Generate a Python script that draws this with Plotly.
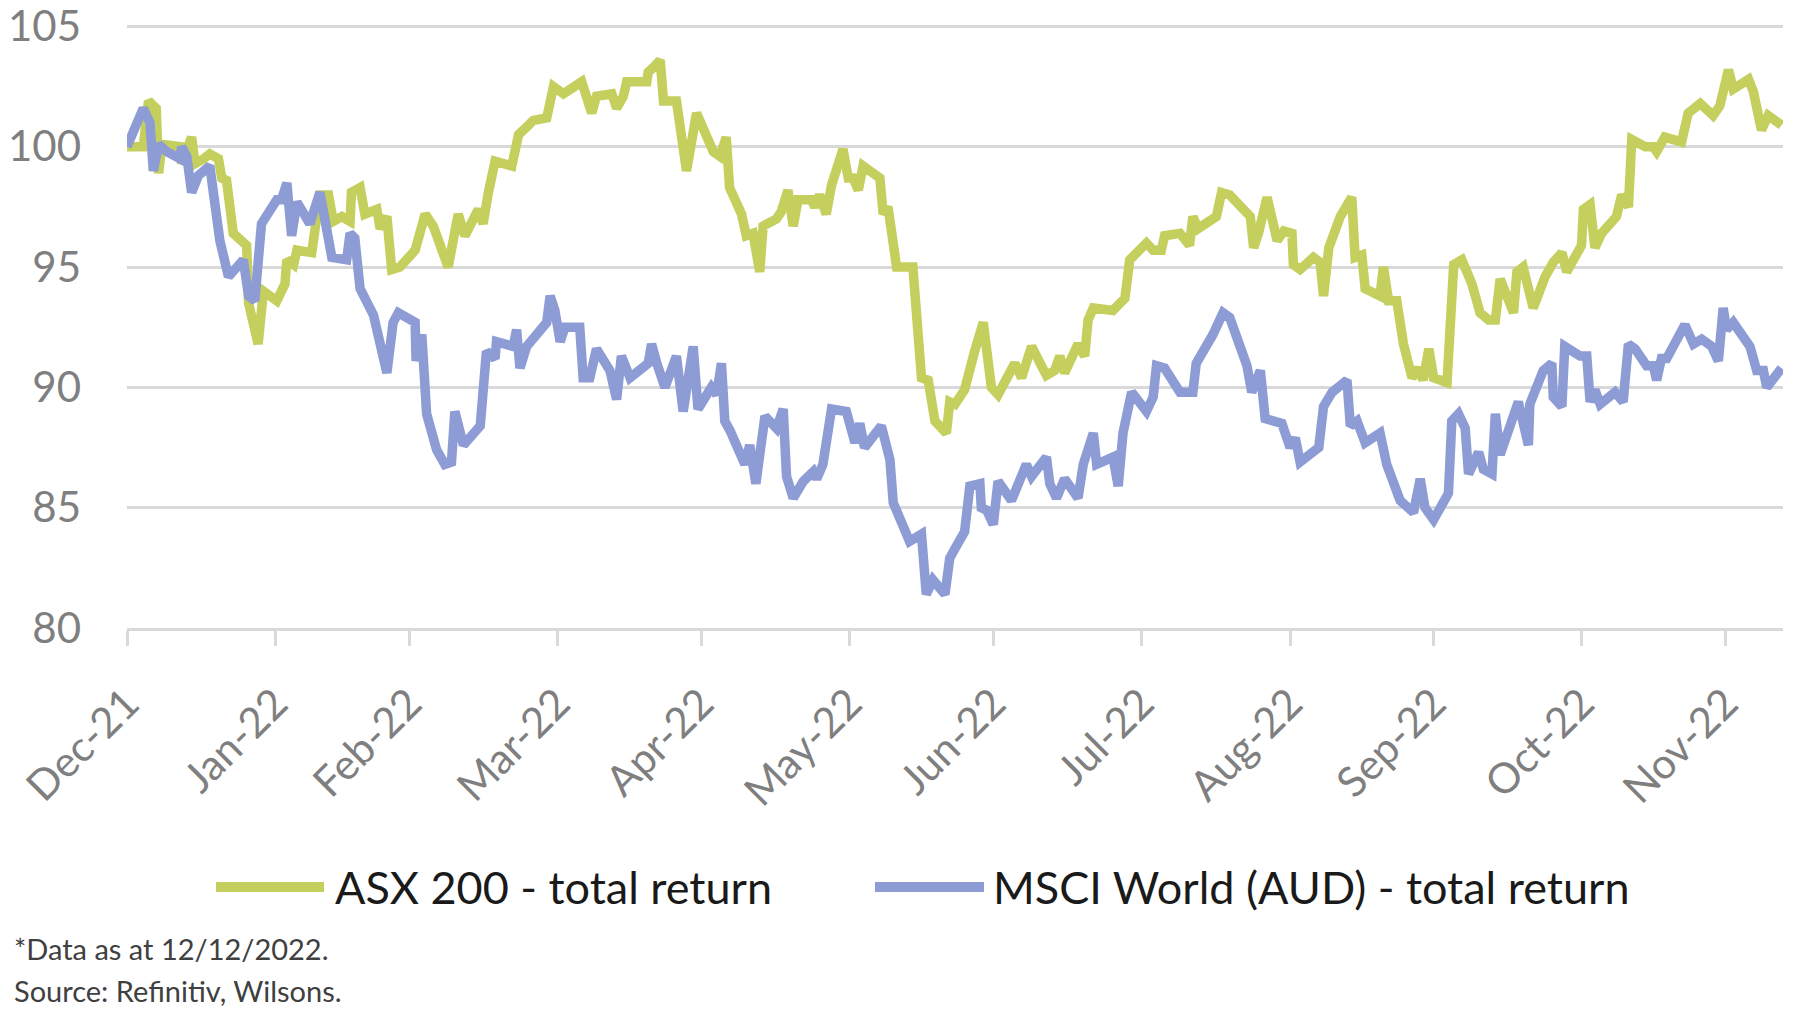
import pandas as pd
import plotly.graph_objects as go

START = "2021-12-31"

# ---- data (days since 31-Dec-2021, index level) ----
asx_days = [0, 3.4, 4.5, 6.1, 6.6, 7.3, 11.1, 11.4, 13.5, 14.2, 16.0, 17.3, 19.1, 19.8, 20.8, 22.2, 25.0, 25.4,
            27.4, 28.5, 31.3, 33.0, 33.4, 34.8, 35.5, 38.6, 39.3, 40.3, 42.1, 43.1, 44.9, 46.6, 46.9, 48.7, 49.7,
            52.2, 52.9, 54.3, 55.3, 57.0, 60.2, 60.9, 62.3, 64.0, 65.4, 67.1, 69.2, 70.6, 73.4, 74.4, 75.5, 76.9,
            80.4, 81.8, 83.9, 84.9, 87.7, 89.1, 91.2, 95.0, 97.1, 98.1, 101.3, 102.3, 103.7, 104.4, 108.6, 108.9,
            110.0, 111.4, 112.1, 114.8, 116.9, 119.0, 122.5, 123.9, 125.2, 125.9, 128.4, 129.4, 130.8, 132.2,
            132.9, 135.7, 136.7, 138.1, 139.2, 140.2, 143.0, 143.7, 144.7, 146.1, 147.2, 149.6, 150.7, 151.7,
            152.8, 153.8, 157.3, 158.0, 159.0, 160.8, 164.2, 165.3, 166.0, 167.4, 168.8, 171.2, 171.9, 173.0,
            174.0, 175.0, 177.1, 178.9, 180.6, 182.0, 185.5, 186.9, 189.0, 192.1, 193.8, 194.9, 195.9, 198.7,
            200.1, 200.8, 201.9, 206.0, 208.5, 209.5, 213.0, 214.4, 216.1, 216.8, 220.0, 222.0, 222.7, 223.8,
            227.6, 228.7, 230.4, 232.6, 234.7, 235.4, 236.4, 238.2, 240.3, 241.7, 243.4, 243.7, 245.1, 247.9,
            249.3, 250.0, 251.1, 253.5, 254.5, 255.9, 256.6, 258.0, 258.7, 261.8, 262.5, 263.6, 265.3, 266.7,
            268.5, 269.9, 270.8, 272.0, 273.0, 275.8, 277.2, 278.9, 281.0, 282.7, 284.5, 285.9, 286.9, 288.3,
            289.7, 290.4, 291.7, 293.8, 296.3, 298.0, 299.8, 300.8, 303.9, 304.3, 305.7, 306.7, 308.1, 311.2,
            312.3, 313.7, 314.4, 317.2, 318.9, 319.6, 321.3, 324.8, 326.2, 328.7, 331.4, 332.8, 334.6, 335.6,
            338.8, 339.8, 341.5, 342.9, 345.7]
asx_vals = [100.0, 100.0, 101.9, 101.6, 98.9, 100.1, 100.0, 99.3, 100.4, 99.3, 99.5, 99.7, 99.5, 98.7, 98.6, 96.4,
            95.9, 93.5, 91.8, 94.0, 93.6, 94.3, 95.3, 95.1, 95.7, 95.6, 96.6, 98.0, 98.0, 96.9, 97.1, 96.9, 98.1,
            98.3, 97.2, 97.4, 96.6, 97.1, 94.9, 95.0, 95.7, 96.3, 97.2, 96.7, 95.9, 95.0, 97.2, 96.3, 97.4, 96.8,
            98.1, 99.4, 99.2, 100.5, 100.9, 101.1, 101.2, 102.5, 102.2, 102.7, 101.4, 102.1, 102.2, 101.6, 102.1,
            102.7, 102.7, 103.1, 103.3, 103.6, 101.9, 101.9, 99.0, 101.4, 99.8, 99.6, 100.4, 98.3, 97.2, 96.3,
            96.4, 94.8, 96.7, 97.0, 97.3, 98.2, 96.7, 97.8, 97.8, 97.5, 98.0, 97.2, 98.4, 99.9, 98.7, 98.7, 98.2,
            99.2, 98.7, 97.2, 97.5, 95.0, 95.0, 91.5, 90.4, 90.3, 88.6, 88.1, 89.4, 89.3, 89.6, 89.9, 91.5, 92.7,
            90.0, 89.7, 91.0, 90.4, 91.7, 90.5, 90.7, 91.3, 90.6, 91.8, 91.3, 92.8, 93.3, 93.2, 93.7, 95.3, 96.0,
            95.7, 95.7, 96.3, 96.4, 95.9, 97.1, 96.6, 97.1, 98.1, 98.0, 97.6, 97.1, 95.8, 96.4, 97.9, 96.1, 96.5,
            96.4, 95.1, 94.9, 95.4, 95.2, 93.8, 95.8, 97.1, 97.4, 97.9, 95.4, 95.5, 94.1, 93.8, 95.0, 93.6, 93.6,
            91.8, 90.4, 90.8, 90.3, 91.6, 90.4, 90.2, 95.1, 95.3, 94.3, 93.1, 92.8, 92.8, 94.5, 93.8, 93.1, 94.8,
            95.0, 93.3, 94.6, 95.2, 95.6, 94.8, 95.9, 97.4, 97.6, 95.8, 96.4, 97.1, 98.0, 97.5, 100.3, 100.0,
            100.0, 99.8, 100.4, 100.2, 101.4, 101.8, 101.3, 101.7, 103.2, 102.4, 102.8, 102.3, 100.7, 101.3, 100.9]

msci_days = [0, 3.4, 4.8, 5.5, 6.6, 8.3, 11.1, 11.4, 12.5, 13.5, 14.9, 17.3, 19.4, 21.2, 24.3, 25.4, 26.7, 28.1,
             31.3, 32.3, 33.4, 34.4, 35.5, 38.2, 40.3, 42.1, 42.8, 45.9, 46.6, 47.6, 48.7, 51.5, 52.5, 54.3, 55.6,
             56.7, 60.2, 60.4, 61.6, 62.6, 64.7, 66.4, 67.8, 68.5, 70.3, 73.8, 75.1, 76.9, 77.2, 80.7, 81.4, 82.1,
             83.5, 87.7, 88.4, 89.4, 90.5, 91.5, 94.6, 95.3, 96.7, 98.1, 100.9, 102.3, 103.3, 105.1, 108.9, 109.6,
             110.7, 112.4, 114.8, 116.2, 118.3, 119.3, 122.1, 123.2, 124.2, 124.9, 126.0, 129.1, 130.1, 131.4,
             132.2, 133.3, 135.7, 137.1, 137.8, 139.2, 141.3, 143.4, 144.1, 145.4, 147.2, 150.3, 152.1, 153.1,
             154.1, 157.6, 159.4, 160.1, 163.5, 166.0, 167.0, 168.4, 170.9, 171.9, 173.0, 175.0, 176.1, 178.2,
             178.5, 179.6, 181.0, 182.0, 184.8, 186.5, 187.9, 189.0, 192.1, 192.8, 194.2, 195.9, 198.7, 199.8,
             201.9, 202.6, 206.0, 207.1, 208.1, 209.9, 213.0, 214.4, 215.1, 216.8, 220.0, 222.7, 223.4, 226.9,
             229.0, 230.4, 232.6, 234.0, 235.0, 236.8, 237.8, 241.3, 243.0, 244.1, 245.1, 249.0, 250.0, 251.8,
             254.9, 255.6, 257.0, 258.7, 261.8, 263.2, 266.0, 268.8, 270.2, 271.2, 273.0, 276.1, 276.8, 278.2,
             279.6, 280.3, 282.4, 283.4, 285.2, 285.9, 286.9, 289.0, 290.7, 292.8, 293.1, 295.9, 297.7, 298.0,
             299.8, 300.4, 303.6, 305.0, 305.7, 306.7, 307.8, 310.9, 312.6, 313.7, 315.1, 317.5, 318.9, 319.6,
             320.6, 321.7, 323.8, 325.5, 327.3, 329.0, 331.1, 332.5, 333.5, 334.2, 335.6, 339.1, 340.5, 341.9,
             342.6, 345.7]
msci_vals = [100.0, 101.6, 101.0, 99.0, 100.1, 99.8, 99.5, 100.0, 99.6, 98.1, 98.8, 99.2, 96.1, 94.6, 95.3, 93.8,
             93.6, 96.8, 97.8, 97.8, 98.5, 96.3, 97.7, 96.8, 98.1, 96.1, 95.4, 95.3, 96.4, 96.2, 94.1, 93.0, 92.2,
             90.6, 92.7, 93.1, 92.7, 91.1, 92.2, 88.9, 87.4, 86.8, 86.9, 89.0, 87.6, 88.4, 91.5, 91.2, 91.9, 91.7,
             92.4, 90.8, 91.7, 92.7, 93.8, 93.2, 91.9, 92.5, 92.5, 90.4, 90.4, 91.6, 90.7, 89.5, 91.3, 90.4, 91.0,
             91.8, 91.0, 90.0, 91.3, 89.0, 91.7, 89.1, 90.0, 89.7, 91.0, 88.6, 88.2, 86.8, 87.6, 86.0, 87.2, 88.8,
             88.3, 89.1, 86.3, 85.4, 86.1, 86.5, 86.2, 86.8, 89.1, 89.0, 87.7, 88.5, 87.5, 88.4, 87.0, 85.2, 83.6,
             83.9, 81.4, 82.0, 81.4, 82.9, 83.3, 84.0, 85.9, 86.0, 85.0, 84.9, 84.3, 86.1, 85.3, 86.1, 86.8, 86.3,
             87.1, 86.0, 85.4, 86.2, 85.4, 86.8, 88.1, 86.8, 87.1, 85.9, 88.1, 89.8, 89.0, 89.6, 90.9, 90.8, 89.8,
             89.8, 91.0, 92.2, 93.1, 92.9, 91.8, 90.9, 89.8, 90.7, 88.7, 88.5, 87.5, 87.9, 86.9, 87.5, 89.2, 89.8,
             90.3, 88.4, 88.6, 87.7, 88.1, 86.8, 85.3, 84.8, 86.2, 85.0, 84.5, 85.6, 88.6, 88.9, 88.3, 86.4, 87.3,
             86.6, 86.4, 88.9, 87.2, 88.3, 89.4, 87.6, 89.3, 90.7, 91.0, 89.6, 89.2, 91.7, 91.3, 91.3, 89.4, 89.9,
             89.3, 89.8, 89.4, 91.8, 91.6, 90.9, 90.9, 90.3, 91.2, 91.2, 92.0, 92.6, 91.8, 92.0, 91.7, 91.1, 93.3,
             92.4, 92.7, 91.7, 90.7, 90.7, 90.0, 90.8]

tick_dates = ["2021-12-31", "2022-01-31", "2022-02-28", "2022-03-31", "2022-04-30", "2022-05-31",
              "2022-06-30", "2022-07-31", "2022-08-31", "2022-09-30", "2022-10-31", "2022-11-30"]
tick_labels = ["Dec-21", "Jan-22", "Feb-22", "Mar-22", "Apr-22", "May-22",
               "Jun-22", "Jul-22", "Aug-22", "Sep-22", "Oct-22", "Nov-22"]
y_ticks = [80, 85, 90, 95, 100, 105]

series_names = ["ASX 200 - total return", "MSCI World (AUD) - total return"]
series_colors = ["#C4CF5E", "#8E9CD6"]
footnotes = ["*Data as at 12/12/2022.", "Source: Refinitiv, Wilsons."]

# ---- figure ----
start = pd.Timestamp(START)
to_dates = lambda d: start + pd.to_timedelta(d, unit="D")

W, H = 1800, 1014
ML, MR, MT, MB = 127, 17, 25, 386
PW, PH = W - ML - MR, H - MT - MB
FONT = "Lato"

def px2x(px):
    return (px - ML) / PW

def px2y(py):
    return (H - MB - py) / PH

fig = go.Figure()
for days, vals, name, col in [(asx_days, asx_vals, series_names[0], series_colors[0]),
                              (msci_days, msci_vals, series_names[1], series_colors[1])]:
    fig.add_trace(go.Scatter(x=to_dates(days), y=vals, mode="lines", name=name,
                             line=dict(color=col, width=9.5), showlegend=False,
                             cliponaxis=False))

fig.update_layout(
    width=W, height=H, margin=dict(l=ML, r=MR, t=MT, b=MB, autoexpand=False),
    paper_bgcolor="white", plot_bgcolor="white",
    font=dict(family=FONT, color="#7F7F7F", size=42),
    showlegend=False,
)
fig.update_xaxes(type="date", range=[START, "2022-12-12"], tickmode="array",
                 tickvals=tick_dates, ticktext=tick_labels, tickangle=-45,
                 showgrid=False, showline=True, linecolor="#D9D9D9", linewidth=3,
                 ticks="outside", ticklen=15, tickwidth=3, tickcolor="#D9D9D9",
                 tickfont=dict(size=42, color="#7F7F7F", family=FONT),
                 ticklabelstandoff=16, zeroline=False, automargin=False)
fig.update_yaxes(range=[80, 105.06], tickmode="array", tickvals=y_ticks,
                 showgrid=True, gridcolor="#D9D9D9", gridwidth=3, zeroline=False,
                 showline=False, ticks="", ticklabelstandoff=45, automargin=False,
                 tickfont=dict(size=42, color="#7F7F7F", family=FONT))

# custom legend (long line samples)
legend_y = px2y(887)
for (x0, x1, xt), name, col in zip([(216, 324, 333), (875, 984, 991)], series_names, series_colors):
    fig.add_shape(type="line", xref="paper", yref="paper", x0=px2x(x0), x1=px2x(x1),
                  y0=legend_y, y1=legend_y, line=dict(color=col, width=10))
    fig.add_annotation(xref="paper", yref="paper", x=px2x(xt), y=legend_y, text=name,
                       showarrow=False, xanchor="left", yanchor="middle",
                       font=dict(size=45, color="#1A1A1A", family=FONT))

for py, txt in zip([948, 990], footnotes):
    fig.add_annotation(xref="paper", yref="paper", x=px2x(12), y=px2y(py), text=txt,
                       showarrow=False, xanchor="left", yanchor="middle",
                       font=dict(size=29, color="#404040", family=FONT))

fig.write_html("out.html")
